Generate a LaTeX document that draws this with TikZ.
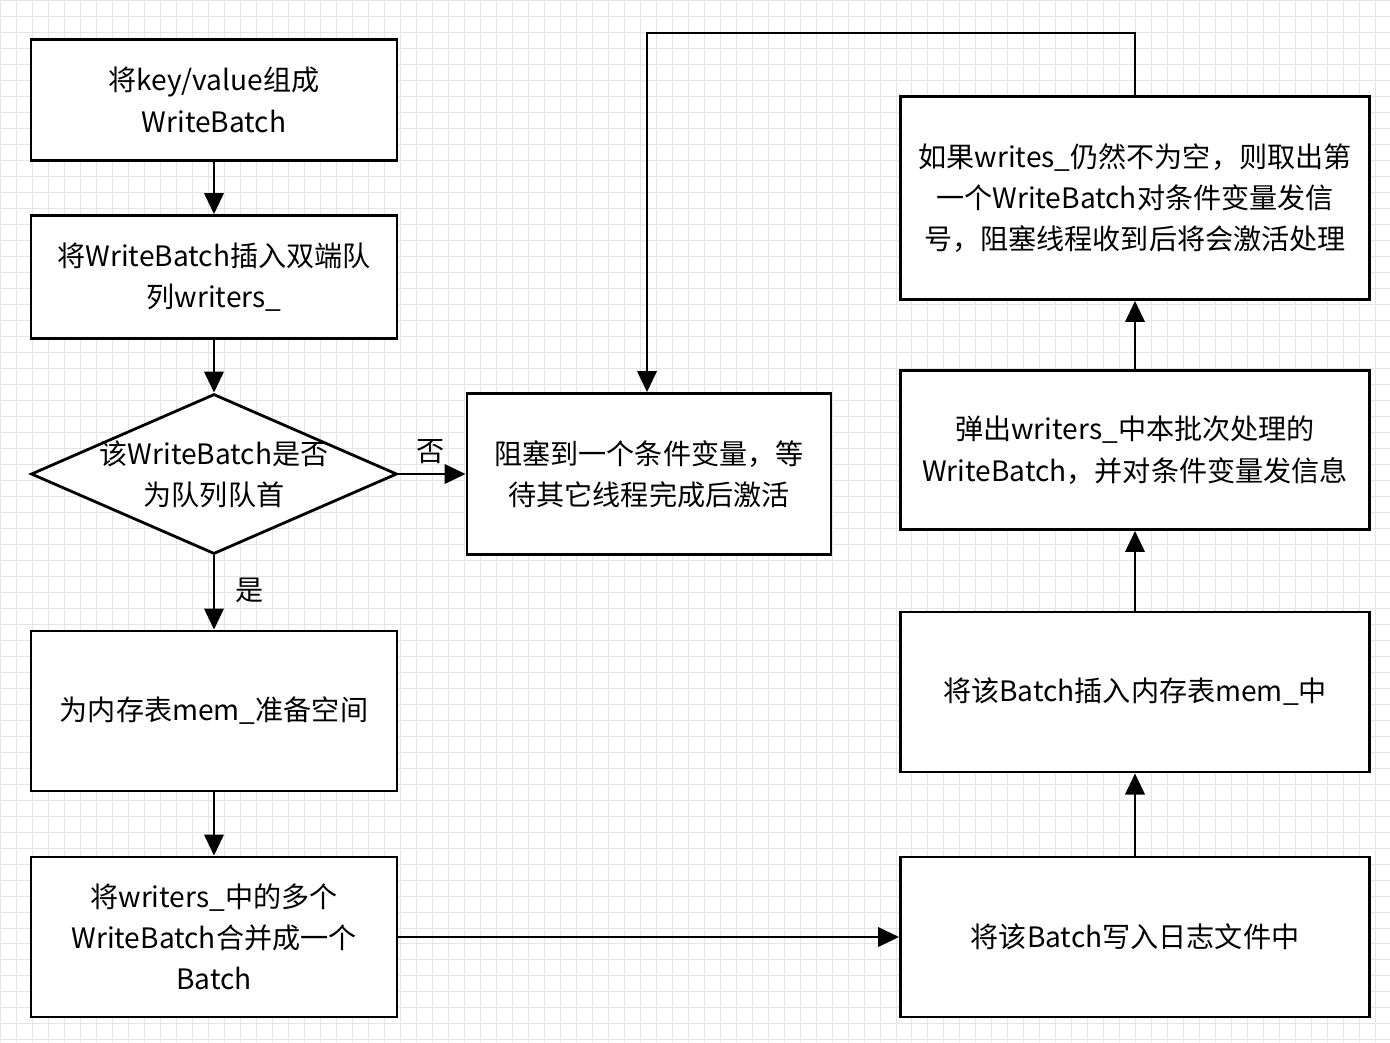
\documentclass[tikz,border=0pt]{standalone}
\usepackage{fontspec}
\setmainfont{Noto Sans CJK SC}
\usetikzlibrary{shapes.geometric,arrows.meta}
\begin{document}
\begin{tikzpicture}[x=0.02cm,y=-0.02cm,
  box/.style={draw,line width=1.6pt,fill=white,align=center,inner sep=2pt,font=\fontsize{16}{23.5}\selectfont},
  arr/.style={line width=1.6pt,-{Triangle[length=12pt,width=11pt]}},
  lbl/.style={font=\fontsize{16}{20}\selectfont}]
\useasboundingbox (0,0) rectangle (1390,1042);
\fill[white] (0,0) rectangle (1390,1042);
\draw[gray!20,line width=0.4pt,step=0.32cm] (0,0) grid (1390,1042);
\node[box,minimum width=366*0.02cm,minimum height=121*0.02cm,text width=340*0.02cm] (A) at (214,100) {将key/value组成\\WriteBatch};
\node[box,minimum width=366*0.02cm,minimum height=123*0.02cm,text width=350*0.02cm] (B) at (214,277) {将WriteBatch插入双端队\\列writers\_};
\node[box,diamond,aspect=2.29,minimum width=366*0.02cm,minimum height=160*0.02cm,inner sep=0pt] (Q) at (214,474) {};
\node[align=center,font=\fontsize{16}{23.5}\selectfont] at (214,474) {该WriteBatch是否\\为队列队首};
\node[box,minimum width=364*0.02cm,minimum height=161*0.02cm,text width=350*0.02cm] (C) at (649,474) {阻塞到一个条件变量，等\\待其它线程完成后激活};
\node[box,minimum width=366*0.02cm,minimum height=160*0.02cm,text width=350*0.02cm] (D) at (214,711) {为内存表mem\_准备空间};
\node[box,minimum width=366*0.02cm,minimum height=160*0.02cm,text width=350*0.02cm] (E) at (214,937) {将writers\_中的多个\\WriteBatch合并成一个\\Batch};
\node[box,minimum width=469*0.02cm,minimum height=160*0.02cm,text width=455*0.02cm] (F) at (1135,937) {将该Batch写入日志文件中};
\node[box,minimum width=469*0.02cm,minimum height=160*0.02cm,text width=455*0.02cm] (G) at (1135,692) {将该Batch插入内存表mem\_中};
\node[box,minimum width=469*0.02cm,minimum height=159*0.02cm,text width=460*0.02cm] (H) at (1135,450) {弹出writers\_中本批次处理的\\WriteBatch，并对条件变量发信息};
\node[box,minimum width=469*0.02cm,minimum height=203*0.02cm,text width=460*0.02cm] (I) at (1135,198) {如果writes\_仍然不为空，则取出第\\一个WriteBatch对条件变量发信\\号，阻塞线程收到后将会激活处理};
\coordinate (t1) at (1135,33);
\coordinate (t2) at (647,33);
\draw[arr] (A) -- (B);
\draw[arr] (B) -- (Q);
\draw[arr] (Q) -- (C);
\draw[arr] (Q) -- (D);
\draw[arr] (D) -- (E);
\draw[arr] (E) -- (F);
\draw[arr] (F) -- (G);
\draw[arr] (G) -- (H);
\draw[arr] (H) -- (I);
\draw[arr] (I.north) -- (t1) -- (t2) -- (t2 |- C.north);
\node[lbl] (no) at (431,452) {否};
\node[lbl] (yes) at (250,590) {是};
\end{tikzpicture}
\end{document}
